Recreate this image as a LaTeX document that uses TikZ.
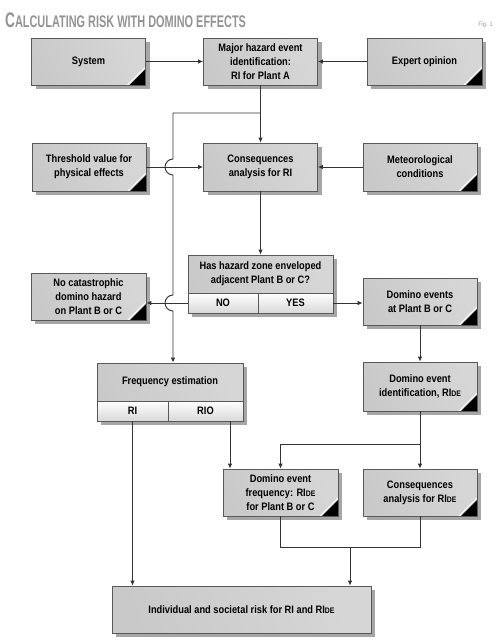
\documentclass[tikz,border=0pt]{standalone}
\usepackage{fontspec}
\usepackage{graphicx}
\setmainfont{Liberation Sans}
\newfontfamily\boxfont{Liberation Sans}[FakeStretch=0.86]
\newfontfamily\titlefont{Liberation Sans}[FakeStretch=0.65]
\usetikzlibrary{arrows.meta,shadows,calc}
\newcommand\dsub{{\fontsize{8}{9}\selectfont DE}}
\tikzset{
  line/.style={draw=black!80, line width=0.9pt},
  arr/.style={line, -{Latex[length=5pt,width=4.5pt]}},
  card/.style={draw=black!65, line width=0.8pt,
    left color=gray!42, middle color=white, right color=gray!32, shading angle=115,
    drop shadow={shadow xshift=4pt, shadow yshift=-4pt, fill=gray!70, opacity=1},
    align=center, inner sep=2pt, text=black,
    font=\boxfont\bfseries\fontsize{10.8}{13.8}\selectfont},
  std/.style={card, minimum width=114pt, minimum height=47pt},
  cell/.style={draw=black!65, line width=0.8pt,
    top color=white, bottom color=gray!30, inner sep=0pt,
    minimum height=20pt, text=black,
    font=\boxfont\bfseries\fontsize{10.8}{12}\selectfont},
  plain/.style={inner sep=0pt, align=center, text=black,
    font=\boxfont\bfseries\fontsize{10.8}{13.8}\selectfont},
  corner/.style={path picture={
    \fill[black] ([xshift=-16pt]path picture bounding box.south east) --
      (path picture bounding box.south east) --
      ([yshift=16pt]path picture bounding box.south east) -- cycle;
    \draw[white, line width=1pt] ([xshift=-18pt]path picture bounding box.south east) --
      ([yshift=18pt]path picture bounding box.south east);}},
}
\begin{document}
\begin{tikzpicture}[x=1pt, y=-1pt]
\useasboundingbox (0,0) rectangle (495,640);

% title
\node[anchor=base west, inner sep=0pt, text=gray!85] (title) at (5,27)
  {\titlefont\bfseries\fontsize{21}{21}\selectfont C\fontsize{16.8}{17}\selectfont ALCULATING RISK WITH DOMINO EFFECTS};
\node[anchor=base east, inner sep=0pt, text=gray!80] (fig) at (493,26)
  {\boxfont\fontsize{6.5}{7}\selectfont Fig. 1};

% row 1
\node[std, corner] (sys) at (88.5,61.5) {System};
\node[std] (maj) at (260.5,61.5) {Major hazard event\\identification:\\RI for Plant A};
\node[std, corner, minimum width=115pt] (exp) at (424.5,61.5) {Expert opinion};

% row 2
\node[std, corner, minimum height=48pt] (thr) at (89,167) {Threshold value for\\physical effects};
\node[std, minimum height=48pt] (con) at (260.5,167) {Consequences\\analysis for RI};
\node[std, corner, minimum height=48pt] (met) at (420,167) {Meteorological\\conditions};

% decision
\node[card, minimum width=145pt, minimum height=58pt] (dec) at (260.5,284) {};
\node[plain] (decq) at (260.5,274) {Has hazard zone enveloped\\adjacent Plant B or C?};
\node[cell, minimum width=70pt] (dno) at (223,303) {NO};
\node[cell, minimum width=75pt] (dyes) at (295.5,303) {YES};

\node[std, corner, minimum width=115pt] (noc) at (88.5,296.5) {No catastrophic\\domino hazard\\on Plant B or C};
\node[std, corner] (dom) at (420,301.5) {Domino events\\at Plant B or C};

% frequency estimation
\node[card, minimum width=146pt, minimum height=58pt] (fq) at (170,392) {};
\node[plain] (fqt) at (170,382) {Frequency estimation};
\node[cell, minimum width=71pt] (fri) at (132.5,411) {RI};
\node[cell, minimum width=75pt] (frio) at (205.5,411) {RIO};

\node[std, corner, minimum height=49pt] (did) at (420,386.5) {Domino event\\identification, RI\dsub};

\node[std, corner, minimum width=115pt] (dfr) at (280.5,492.5) {Domino event\\frequency: RI\dsub\\for Plant B or C};
\node[std, corner] (cre) at (420,492.5) {Consequences\\analysis for RI\dsub};

\node[card, minimum width=259pt, minimum height=47pt] (fin) at (241.5,609.5) {Individual and societal risk for RI and RI\dsub};

% connectors
\draw[arr] (sys.east) -- (maj.west);
\draw[arr] (exp.west) -- (maj.east);
\draw[arr] (maj.south) -- (con.north);
\coordinate (split) at (260.5,113);
\coordinate (hopx) at (173,113);
\draw[arr] (split) -- (hopx) -- (173,159) arc[start angle=90, end angle=270, radius=8pt]
  -- (173,295) arc[start angle=90, end angle=270, radius=8pt] -- (hopx |- fq.north);
\draw[arr] (thr.east) -- (con.west);
\draw[arr] (met.west) -- (con.east);
\draw[arr] (con.south) -- (dec.north);
\draw[arr] (dno.west) -- (dno.west -| noc.east);
\draw[arr] (dyes.east) -- (dyes.east -| dom.west);
\draw[arr] (dom.south) -- (did.north);
\draw[arr] (did.south) -- (cre.north);
\coordinate (br) at (420,444);
\draw[arr] (br) -| (dfr.north);
\draw[arr] (fri.south) -- (fri.south |- fin.north);
\coordinate (rio) at (230,421);
\draw[arr] (rio) -- (rio |- dfr.north);
\coordinate (jn) at (350,547);
\draw[line] (dfr.south) -- (dfr.south |- jn) -- (cre.south |- jn) -- (cre.south);
\draw[arr] (jn) -- (jn |- fin.north);
\end{tikzpicture}
\end{document}
